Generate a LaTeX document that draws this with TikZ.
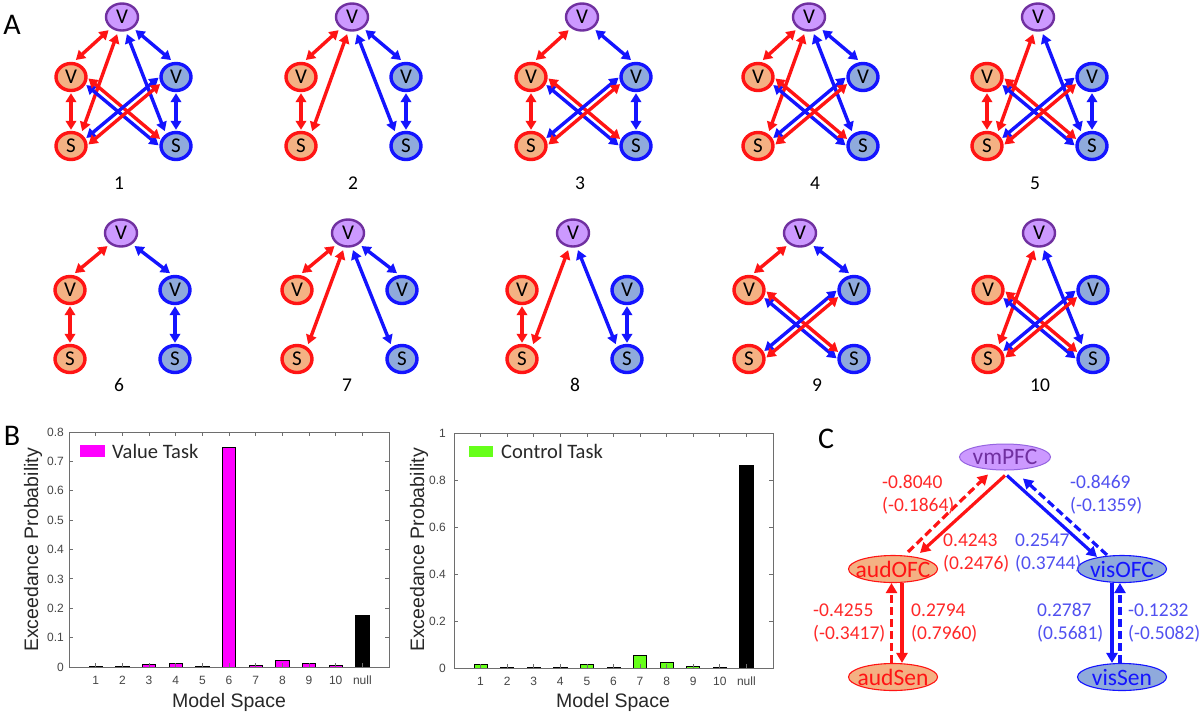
\documentclass[tikz,border=0pt]{standalone}
\usepackage{fontspec}
\setmainfont{Carlito}
\newfontfamily\arialf{Liberation Sans}
\usetikzlibrary{arrows.meta,shapes.geometric,calc}
\definecolor{aRed}{RGB}{255,20,20}
\definecolor{aBlue}{RGB}{20,20,255}
\definecolor{pFill}{RGB}{204,153,255}
\definecolor{pBord}{RGB}{112,48,160}
\definecolor{pBordC}{RGB}{150,100,225}
\definecolor{oFill}{RGB}{244,177,131}
\definecolor{bFill}{RGB}{143,170,220}
\definecolor{magbar}{RGB}{255,0,255}
\definecolor{grnbar}{RGB}{102,255,26}
\definecolor{labBlue}{RGB}{80,80,240}
\definecolor{labRed}{RGB}{255,40,40}
\definecolor{axgray}{RGB}{110,110,110}
\definecolor{tickgray}{RGB}{70,70,70}
\definecolor{titlegray}{RGB}{40,40,40}
\tikzset{
  vfont/.style={font=\fontsize{21}{21}\selectfont},
  pnode/.style={ellipse, draw=pBord, fill=pFill, line width=2.4pt, minimum width=32pt, minimum height=27pt, inner sep=0pt, vfont},
  rnode/.style={ellipse, draw=aRed, fill=oFill, line width=3.4pt, minimum width=30pt, minimum height=27pt, inner sep=0pt, vfont},
  bnode/.style={ellipse, draw=aBlue, fill=bFill, line width=3.4pt, minimum width=30pt, minimum height=27pt, inner sep=0pt, vfont},
  numlab/.style={font=\fontsize{19.5}{19.5}\selectfont, inner sep=0pt},
  panlab/.style={font=\fontsize{30}{30}\selectfont, inner sep=0pt},
  redarr/.style={draw=aRed, line width=3.4pt, {Triangle[length=9pt,width=10.5pt]}-{Triangle[length=9pt,width=10.5pt]}},
  bluarr/.style={draw=aBlue, line width=3.4pt, {Triangle[length=9pt,width=10.5pt]}-{Triangle[length=9pt,width=10.5pt]}},
  gapA/.style={shorten <=3pt, shorten >=3pt},
  gapB/.style={shorten <=1pt, shorten >=1pt},
  ticklab/.style={font=\arialf\fontsize{12}{12}\selectfont, text=tickgray, inner sep=0pt},
  axtitle/.style={font=\arialf\fontsize{19.5}{19.5}\selectfont, text=titlegray, inner sep=0pt},
  legtext/.style={font=\fontsize{20.5}{20.5}\selectfont, text=titlegray, inner sep=0pt, anchor=west},
  cfont/.style={font=\fontsize{23.5}{23.5}\selectfont},
  vmn/.style={ellipse, draw=pBordC, fill=pFill, line width=1pt, minimum width=91pt, minimum height=26pt, inner sep=0pt, text=pBord, cfont},
  aon/.style={ellipse, draw=aRed, fill=oFill, line width=1.1pt, minimum width=89pt, minimum height=27pt, inner sep=0pt, text=aRed, cfont},
  von/.style={ellipse, draw=aBlue, fill=bFill, line width=1.1pt, minimum width=89pt, minimum height=27pt, inner sep=0pt, text=aBlue, cfont},
  cRed/.style={draw=aRed, line width=3.2pt, -{Triangle[length=10pt,width=11pt]}},
  cBlu/.style={draw=aBlue, line width=3.2pt, -{Triangle[length=10pt,width=11pt]}},
  dsh/.style={dash pattern=on 8pt off 4pt},
  clab/.style={font=\fontsize{19.5}{23}\selectfont, align=left, anchor=west, inner sep=0pt},
}
\newcommand{\mkmodel}[5]{%
  \node[pnode] (#1t) at (#2,#3) {V};
  \node[rnode] (#1av) at (#2-51,#3+#4) {V};
  \node[rnode] (#1as) at (#2-51,#3+#5) {S};
  \node[bnode] (#1bv) at (#2+54,#3+#4) {V};
  \node[bnode] (#1bs) at (#2+54,#3+#5) {S};
}
\newcommand{\edgeTopV}[1]{%
  \draw[redarr,gapA] (#1t.-135) -- (#1av.80);
  \draw[bluarr,gapA] (#1t.-45) -- (#1bv.100);
}
\newcommand{\edgeVert}[1]{%
  \draw[redarr,gapB] (#1av) -- (#1as);
  \draw[bluarr,gapB] (#1bv) -- (#1bs);
}
\newcommand{\edgeLong}[1]{%
  \draw[redarr,gapA] (#1t.-105) -- (#1as.50);
  \draw[bluarr,gapA] (#1t.-75) -- (#1bs.130);
}
\newcommand{\edgeCross}[1]{%
  \draw[bluarr,gapB] (#1av.-27) -- (#1bs.180);
  \draw[redarr,gapB] (#1av.-3) -- (#1bs.157);
  \draw[bluarr,gapB] (#1as.27) -- (#1bv.180);
  \draw[redarr,gapB] (#1as.3) -- (#1bv.203);
}
\begin{document}
\begin{tikzpicture}[x=1pt,y=-1pt]
\useasboundingbox (0,0) rectangle (1200,713);
\fill[white] (0,0) rectangle (1200,713);

% ---------- Panel A ----------
\node[panlab] (pA) at (12,25) {A};
\mkmodel{mA}{122}{17}{60}{129}
\mkmodel{mB}{352}{17}{60}{129}
\mkmodel{mC}{582}{17}{60}{129}
\mkmodel{mD}{809}{17}{60}{129}
\mkmodel{mE}{1038}{17}{60}{129}
\mkmodel{mF}{121}{233}{57}{126}
\mkmodel{mG}{348}{233}{57}{126}
\mkmodel{mH}{573}{233}{57}{126}
\mkmodel{mI}{800}{233}{57}{126}
\mkmodel{mJ}{1039}{233}{57}{126}
\node[numlab] (nA) at (119,183) {1};
\node[numlab] (nB) at (353,183) {2};
\node[numlab] (nC) at (580,183) {3};
\node[numlab] (nD) at (815,183) {4};
\node[numlab] (nE) at (1035,183) {5};
\node[numlab] (nF) at (119,385) {6};
\node[numlab] (nG) at (347,385) {7};
\node[numlab] (nH) at (575,385) {8};
\node[numlab] (nI) at (817,385) {9};
\node[numlab] (nJ) at (1040,385) {10};
% model 1
\edgeTopV{mA}\edgeVert{mA}\edgeLong{mA}\edgeCross{mA}
% model 2
\edgeTopV{mB}\edgeVert{mB}\edgeLong{mB}
% model 3
\edgeTopV{mC}\edgeVert{mC}\edgeCross{mC}
% model 4
\edgeTopV{mD}\edgeLong{mD}\edgeCross{mD}
% model 5
\edgeVert{mE}\edgeLong{mE}\edgeCross{mE}
% model 6
\edgeTopV{mF}\edgeVert{mF}
% model 7
\edgeTopV{mG}\edgeLong{mG}
% model 8
\edgeVert{mH}\edgeLong{mH}
% model 9
\edgeTopV{mI}\edgeCross{mI}
% model 10
\edgeLong{mJ}\edgeCross{mJ}

% ---------- Panel B ----------
\node[panlab] (pB) at (12,436) {B};
% chart 1
\foreach \i/\v in {1/0.0015,2/0.0015,3/0.010,4/0.013,5/0.0015,6/0.748,7/0.004,8/0.024,9/0.013,10/0.004}
  \filldraw[fill=magbar, draw=black, line width=0.7pt] (69+26.67*\i-6.6,667) rectangle (69+26.67*\i+6.6,667-293.75*\v);
\filldraw[fill=black, draw=black, line width=0.7pt] (69+26.67*11-6.6,667) rectangle (69+26.67*11+6.6,667-293.75*0.176);
\draw[axgray, line width=0.8pt] (69,432) rectangle (389,667);
\foreach \k/\lab in {0/0,1/0.1,2/0.2,3/0.3,4/0.4,5/0.5,6/0.6,7/0.7,8/0.8} {
  \draw[axgray, line width=0.8pt] (69,667-29.375*\k) -- ++(4,0);
  \draw[axgray, line width=0.8pt] (389,667-29.375*\k) -- ++(-4,0);
  \node[ticklab, anchor=east] at (64,667-29.375*\k) {\lab};
}
\foreach \i/\lab in {1/1,2/2,3/3,4/4,5/5,6/6,7/7,8/8,9/9,10/10,11/null} {
  \draw[axgray, line width=0.8pt] (69+26.67*\i,667) -- ++(0,-4);
  \draw[axgray, line width=0.8pt] (69+26.67*\i,432) -- ++(0,4);
  \node[ticklab] at (69+26.67*\i,680) {\lab};
}
\node[axtitle, rotate=90] (yt1) at (33,550) {Exceedance Probability};
\node[axtitle] (xt1) at (229,702) {Model Space};
\fill[magbar] (80,445) rectangle (105,457);
\node[legtext] (lg1) at (112,451) {Value Task};
% chart 2
\foreach \i/\v in {1/0.017,2/0.004,3/0.0015,4/0.003,5/0.016,6/0.002,7/0.056,8/0.025,9/0.008,10/0.0015}
  \filldraw[fill=grnbar, draw=black, line width=0.7pt] (454+26.58*\i-6.6,668) rectangle (454+26.58*\i+6.6,668-235*\v);
\filldraw[fill=black, draw=black, line width=0.7pt] (454+26.58*11-6.6,668) rectangle (454+26.58*11+6.6,668-235*0.862);
\draw[axgray, line width=0.8pt] (454,433) rectangle (773,668);
\foreach \k/\lab in {0/0,1/0.2,2/0.4,3/0.6,4/0.8,5/1} {
  \draw[axgray, line width=0.8pt] (454,668-47*\k) -- ++(4,0);
  \draw[axgray, line width=0.8pt] (773,668-47*\k) -- ++(-4,0);
  \node[ticklab, anchor=east] at (446,668-47*\k) {\lab};
}
\foreach \i/\lab in {1/1,2/2,3/3,4/4,5/5,6/6,7/7,8/8,9/9,10/10,11/null} {
  \draw[axgray, line width=0.8pt] (454+26.58*\i,668) -- ++(0,-4);
  \draw[axgray, line width=0.8pt] (454+26.58*\i,433) -- ++(0,4);
  \node[ticklab] at (454+26.58*\i,681) {\lab};
}
\node[axtitle, rotate=90] (yt2) at (419,550) {Exceedance Probability};
\node[axtitle] (xt2) at (613,702) {Model Space};
\fill[grnbar] (469,446) rectangle (493,457);
\node[legtext] (lg2) at (501,451) {Control Task};

% ---------- Panel C ----------
\node[panlab] (pC) at (826,439) {C};
\node[vmn] (vm) at (1005,457) {\makebox[0pt]{vmPFC}};
\node[aon] (ao) at (893,569) {\makebox[0pt]{audOFC}};
\node[von] (vo) at (1122,569) {\makebox[0pt]{visOFC}};
\node[aon] (asn) at (893,677) {\makebox[0pt]{audSen}};
\node[von] (vsn) at (1122,677) {\makebox[0pt]{visSen}};
\draw[cRed] ([yshift=-5pt]vm.south) -- ([xshift=27pt,yshift=2pt]ao.north);
\draw[cRed,dsh] ([xshift=15pt,yshift=3pt]ao.north) -- ([xshift=-17pt,yshift=-4pt]vm.south);
\draw[cBlu] ([xshift=2pt,yshift=-5pt]vm.south) -- ([xshift=-25pt,yshift=-2pt]vo.north);
\draw[cBlu,dsh] ([xshift=-15pt]vo.north) -- ([xshift=18pt,yshift=-8pt]vm.south);
\draw[cRed] ([xshift=9pt]ao.south) -- ([xshift=9pt]asn.north);
\draw[cRed,dsh] ([xshift=-1.5pt]asn.north) -- ([xshift=-1.5pt]ao.south);
\draw[cBlu] ([xshift=-10pt]vo.south) -- ([xshift=-10pt]vsn.north);
\draw[cBlu,dsh] ([xshift=-2pt]vsn.north) -- ([xshift=-2pt]vo.south);
\node[clab, text=labRed] (l1) at (882,495) {-0.8040\\(-0.1864)};
\node[clab, text=labRed] (l2) at (943,553) {0.4243\\(0.2476)};
\node[clab, text=labBlue] (l3) at (1015,553) {0.2547\\(0.3744)};
\node[clab, text=labBlue] (l4) at (1070,495) {-0.8469\\(-0.1359)};
\node[clab, text=labRed] (l5) at (813,623) {-0.4255\\(-0.3417)};
\node[clab, text=labRed] (l6) at (911,623) {0.2794\\(0.7960)};
\node[clab, text=labBlue] (l7) at (1037,623) {0.2787\\(0.5681)};
\node[clab, text=labBlue] (l8) at (1128,623) {-0.1232\\(-0.5082)};
\end{tikzpicture}
\end{document}
